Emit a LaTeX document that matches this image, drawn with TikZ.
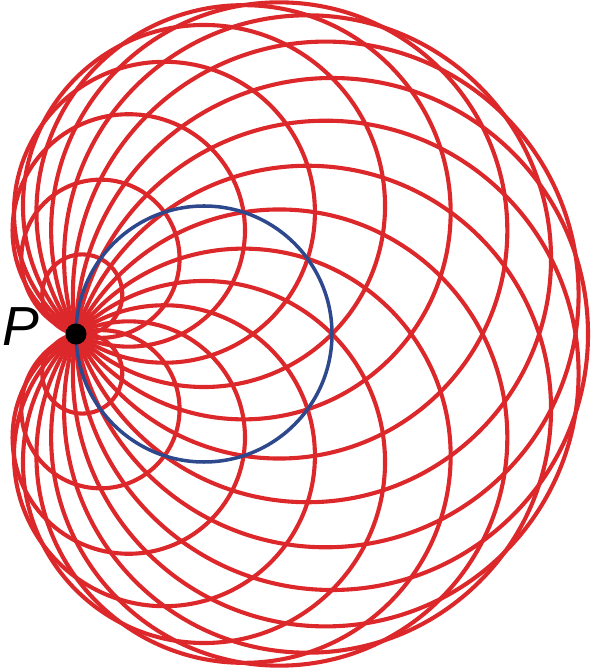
\documentclass[tikz,border=0pt]{standalone}
\usepackage{fontspec}
\setmainfont{Liberation Sans}
\usepackage{xcolor}
\usetikzlibrary{calc}
\definecolor{cardred}{RGB}{220,40,42}
\definecolor{baseblue}{RGB}{46,72,142}
\tikzset{
  gen/.style={draw=cardred, line width=3.5pt},
  base/.style={draw=baseblue, line width=3pt},
  pole/.style={circle, fill=black, inner sep=0pt, minimum size=18pt}
}

\begin{document}
\begin{tikzpicture}[x=0.03cm,y=0.03cm]
			\useasboundingbox (0,0) rectangle (591,669);
			%base circle and pole
			\coordinate (C) at (204,335);
			\coordinate (Pc) at (76,335);
			%generating circles
			\foreach \k in {0,...,9,11,12,...,19} {
				\pgfmathsetmacro{\rad}{256*abs(cos(\k*9))}
				\draw [gen] ($(C)+(\k*18:128)$) circle (\rad);
			}
			%blue circle
			\draw [base] (C) circle (128);
			%point
			\node [pole] (P) at (Pc) {};
			\node [font=\fontsize{47}{47}\selectfont\itshape] (lab) at (21,342) {P};
		\end{tikzpicture}
\end{document}
